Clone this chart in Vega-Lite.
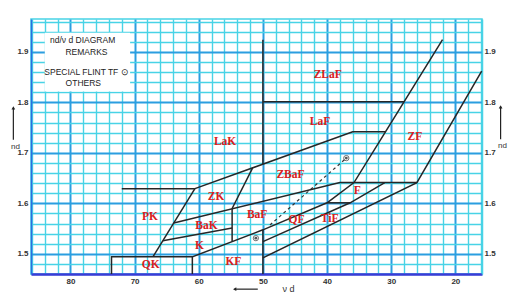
{
  "$schema": "https://vega.github.io/schema/vega-lite/v6.json",
  "width": 451,
  "height": 255,
  "autosize": {"type": "none"},
  "padding": {"left": 31, "top": 19, "right": 44, "bottom": 29},
  "background": "white",
  "config": {"view": {"stroke": "#48d3e6", "strokeWidth": 1.5}},
  "datasets": {
    "box": [{"x1": 84.0, "x2": 70.7, "y1": 1.8214, "y2": 1.9376}],
    "boxtext": [
      {"t": "nd/ν d DIAGRAM", "nu": 78.1, "nd": 1.9238},
      {"t": "REMARKS", "nu": 77.5, "nd": 1.8994},
      {"t": "SPECIAL FLINT   TF ⊙", "nu": 77.5, "nd": 1.861},
      {"t": "OTHERS", "nu": 78.0, "nd": 1.8376}
    ],
    "segments": [
      {"seg": "h163", "i": 0, "nu": 72.0, "nd": 1.629},
      {"seg": "h163", "i": 1, "nu": 60.6, "nd": 1.629},
      {"seg": "LaK", "i": 0, "nu": 60.6, "nd": 1.629},
      {"seg": "LaK", "i": 1, "nu": 36.0, "nd": 1.7416},
      {"seg": "LaK", "i": 2, "nu": 30.9, "nd": 1.7416},
      {"seg": "PK", "i": 0, "nu": 60.6, "nd": 1.629},
      {"seg": "PK", "i": 1, "nu": 67.1, "nd": 1.495},
      {"seg": "ZKr", "i": 0, "nu": 51.6, "nd": 1.670},
      {"seg": "ZKr", "i": 1, "nu": 54.8, "nd": 1.5897},
      {"seg": "BaKv", "i": 0, "nu": 54.8, "nd": 1.5897},
      {"seg": "BaKv", "i": 1, "nu": 54.8, "nd": 1.5248},
      {"seg": "ZBaF", "i": 0, "nu": 63.9, "nd": 1.561},
      {"seg": "ZBaF", "i": 1, "nu": 38.0, "nd": 1.641},
      {"seg": "ZBaF", "i": 2, "nu": 26.0, "nd": 1.641},
      {"seg": "BaKlow", "i": 0, "nu": 65.6, "nd": 1.5257},
      {"seg": "BaKlow", "i": 1, "nu": 54.8, "nd": 1.5509},
      {"seg": "a", "i": 0, "nu": 61.0, "nd": 1.494},
      {"seg": "a", "i": 1, "nu": 50.0, "nd": 1.5475},
      {"seg": "a", "i": 2, "nu": 40.0, "nd": 1.601},
      {"seg": "b", "i": 0, "nu": 50.0, "nd": 1.524},
      {"seg": "b", "i": 1, "nu": 36.4, "nd": 1.601},
      {"seg": "b", "i": 2, "nu": 31.0, "nd": 1.641},
      {"seg": "c", "i": 0, "nu": 50.0, "nd": 1.492},
      {"seg": "c", "i": 1, "nu": 26.0, "nd": 1.641},
      {"seg": "c", "i": 2, "nu": 15.9, "nd": 1.862},
      {"seg": "diag", "i": 0, "nu": 22.0, "nd": 1.924},
      {"seg": "diag", "i": 1, "nu": 30.9, "nd": 1.7416},
      {"seg": "diag", "i": 2, "nu": 35.8, "nd": 1.641},
      {"seg": "diag", "i": 3, "nu": 40.0, "nd": 1.601},
      {"seg": "hF", "i": 0, "nu": 40.0, "nd": 1.601},
      {"seg": "hF", "i": 1, "nu": 36.4, "nd": 1.601},
      {"seg": "h18", "i": 0, "nu": 50.0, "nd": 1.801},
      {"seg": "h18", "i": 1, "nu": 28.0, "nd": 1.801},
      {"seg": "v50t", "i": 0, "nu": 50.0, "nd": 1.924},
      {"seg": "v50t", "i": 1, "nu": 50.0, "nd": 1.678},
      {"seg": "v50b", "i": 0, "nu": 50.0, "nd": 1.5475},
      {"seg": "v50b", "i": 1, "nu": 50.0, "nd": 1.46},
      {"seg": "QK", "i": 0, "nu": 73.6, "nd": 1.46},
      {"seg": "QK", "i": 1, "nu": 73.6, "nd": 1.494},
      {"seg": "QK", "i": 2, "nu": 61.0, "nd": 1.494},
      {"seg": "QK", "i": 3, "nu": 61.0, "nd": 1.46}
    ],
    "dashed": [
      {"i": 0, "nu": 48.9, "nd": 1.557},
      {"i": 1, "nu": 37.0, "nd": 1.6895}
    ],
    "circles": [
      {"nu": 37.0, "nd": 1.6895},
      {"nu": 51.1, "nd": 1.531}
    ],
    "labels": [
      {"label": "ZLaF", "nu": 39.9, "nd": 1.854},
      {"label": "LaF", "nu": 41.1, "nd": 1.762},
      {"label": "ZF", "nu": 26.3, "nd": 1.732},
      {"label": "LaK", "nu": 55.9, "nd": 1.721},
      {"label": "ZBaF", "nu": 45.7, "nd": 1.656},
      {"label": "F", "nu": 35.3, "nd": 1.625},
      {"label": "QF", "nu": 44.75, "nd": 1.567},
      {"label": "TiF", "nu": 39.6, "nd": 1.569},
      {"label": "BaF", "nu": 50.9, "nd": 1.577},
      {"label": "ZK", "nu": 57.3, "nd": 1.612},
      {"label": "PK", "nu": 67.6, "nd": 1.572},
      {"label": "BaK", "nu": 58.8, "nd": 1.556},
      {"label": "K", "nu": 59.9, "nd": 1.516},
      {"label": "QK", "nu": 67.5, "nd": 1.477},
      {"label": "KF", "nu": 54.6, "nd": 1.4836}
    ],
    "arrows": [
      {"nu": 88.9, "nd": 1.726, "nu2": 88.9, "nd2": 1.789},
      {"nu": 12.95, "nd": 1.727, "nu2": 12.95, "nd2": 1.791},
      {"nu": 54.4, "nd": 1.430, "nu2": 50.8, "nd2": 1.430}
    ],
    "headsUp": [
      {"nu": 88.9, "nd": 1.789},
      {"nu": 12.95, "nd": 1.791}
    ],
    "headsLeft": [
      {"nu": 54.4, "nd": 1.430}
    ]
  },
  "resolve": {"axis": {"x": "independent", "y": "independent"}},
  "layer": [
    {
      "data": {"name": "box"},
      "mark": {"type": "rect", "fill": "white", "stroke": null},
      "encoding": {
        "x": {
          "field": "x1", "type": "quantitative",
          "scale": {"domain": [15.85, 86.15], "reverse": true, "nice": false, "zero": false},
          "axis": {
            "orient": "bottom",
            "values": [16,18,20,22,24,26,28,30,32,34,36,38,40,42,44,46,48,50,52,54,56,58,60,62,64,66,68,70,72,74,76,78,80,82,84,86],
            "grid": true,
            "gridColor": {"condition": {"test": "datum.value % 10 === 0", "value": "#2a9ee0"}, "value": "#48d3e6"},
            "gridWidth": {"condition": {"test": "datum.value % 10 === 0", "value": 2}, "value": 1.4},
            "ticks": false,
            "labelExpr": "datum.value % 10 === 0 ? datum.label : ''",
            "labelOverlap": false,
            "labelFlush": false,
            "labelPadding": 3,
            "labelFont": "Liberation Sans",
            "labelFontSize": 8,
            "labelFontWeight": "bold",
            "labelColor": "#333333",
            "domainColor": "#3b3bd6",
            "domainWidth": 2.5,
            "title": "ν d",
            "titleFont": "Liberation Sans",
            "titleFontSize": 9,
            "titleFontWeight": "normal",
            "titleColor": "#333333",
            "titleX": 257,
            "titleY": 14,
            "titleAlign": "center",
            "titleBaseline": "middle"
          }
        },
        "x2": {"field": "x2"},
        "y": {
          "field": "y1", "type": "quantitative",
          "scale": {"domain": [1.46, 1.965], "nice": false, "zero": false},
          "axis": {
            "orient": "left",
            "values": [1.46,1.48,1.5,1.52,1.54,1.56,1.58,1.6,1.62,1.64,1.66,1.68,1.7,1.72,1.74,1.76,1.78,1.8,1.82,1.84,1.86,1.88,1.9,1.92,1.94,1.96],
            "grid": true,
            "gridColor": {"condition": {"test": "abs(datum.value*10 - round(datum.value*10)) < 0.001", "value": "#2a9ee0"}, "value": "#48d3e6"},
            "gridWidth": {"condition": {"test": "abs(datum.value*10 - round(datum.value*10)) < 0.001", "value": 2}, "value": 1.4},
            "ticks": false,
            "labelExpr": "abs(datum.value*10 - round(datum.value*10)) < 0.001 ? format(datum.value, '.1f') : ''",
            "labelOverlap": false,
            "labelFlush": false,
            "labelPadding": 3,
            "labelFont": "Liberation Sans",
            "labelFontSize": 8,
            "labelFontWeight": "bold",
            "labelColor": "#333333",
            "domainColor": "#2a6fe0",
            "domainWidth": 1.5,
            "title": "nd",
            "titleAngle": 0,
            "titleFont": "Liberation Sans",
            "titleFontSize": 8,
            "titleFontWeight": "normal",
            "titleColor": "#333333",
            "titleX": -16,
            "titleY": 127,
            "titleAlign": "center",
            "titleBaseline": "middle"
          }
        },
        "y2": {"field": "y2"}
      }
    },
    {
      "data": {"name": "segments"},
      "mark": {"type": "line", "color": "#262626", "strokeWidth": 1.5},
      "encoding": {
        "x": {"field": "nu", "type": "quantitative", "axis": null},
        "y": {
          "field": "nd", "type": "quantitative",
          "axis": {
            "orient": "right",
            "values": [1.5, 1.6, 1.7, 1.8, 1.9],
            "format": ".1f",
            "grid": false,
            "ticks": false,
            "labelPadding": 2,
            "labelFont": "Liberation Sans",
            "labelFontSize": 8,
            "labelFontWeight": "bold",
            "labelColor": "#333333",
            "domainColor": "#48d3e6",
            "domainWidth": 1.5,
            "title": "nd",
            "titleAngle": 0,
            "titleFont": "Liberation Sans",
            "titleFontSize": 8,
            "titleFontWeight": "normal",
            "titleColor": "#333333",
            "titleX": 20,
            "titleY": 126,
            "titleAlign": "center",
            "titleBaseline": "middle"
          }
        },
        "detail": {"field": "seg"},
        "order": {"field": "i"}
      }
    },
    {
      "data": {"name": "dashed"},
      "mark": {"type": "line", "color": "#333333", "strokeWidth": 1.2, "strokeDash": [3, 3]},
      "encoding": {
        "x": {"field": "nu", "type": "quantitative", "axis": null},
        "y": {"field": "nd", "type": "quantitative", "axis": null},
        "order": {"field": "i"}
      }
    },
    {
      "data": {"name": "circles"},
      "mark": {"type": "point", "shape": "circle", "filled": false, "color": "#333333", "strokeWidth": 1, "size": 28},
      "encoding": {
        "x": {"field": "nu", "type": "quantitative", "axis": null},
        "y": {"field": "nd", "type": "quantitative", "axis": null}
      }
    },
    {
      "data": {"name": "circles"},
      "mark": {"type": "point", "shape": "circle", "filled": true, "color": "#555555", "opacity": 1, "size": 8},
      "encoding": {
        "x": {"field": "nu", "type": "quantitative", "axis": null},
        "y": {"field": "nd", "type": "quantitative", "axis": null}
      }
    },
    {
      "data": {"name": "labels"},
      "mark": {"type": "text", "font": "Liberation Serif", "fontWeight": "bold", "fontSize": 11.5, "color": "#d82020", "align": "center", "baseline": "middle"},
      "encoding": {
        "x": {"field": "nu", "type": "quantitative", "axis": null},
        "y": {"field": "nd", "type": "quantitative", "axis": null},
        "text": {"field": "label"}
      }
    },
    {
      "data": {"name": "boxtext"},
      "mark": {"type": "text", "font": "Liberation Sans", "fontSize": 8.5, "color": "#222222", "align": "center", "baseline": "middle"},
      "encoding": {
        "x": {"field": "nu", "type": "quantitative", "axis": null},
        "y": {"field": "nd", "type": "quantitative", "axis": null},
        "text": {"field": "t"}
      }
    },
    {
      "data": {"name": "arrows"},
      "mark": {"type": "rule", "color": "#222222", "strokeWidth": 1.2},
      "encoding": {
        "x": {"field": "nu", "type": "quantitative", "axis": null},
        "y": {"field": "nd", "type": "quantitative", "axis": null},
        "x2": {"field": "nu2"},
        "y2": {"field": "nd2"}
      }
    },
    {
      "data": {"name": "headsUp"},
      "mark": {"type": "point", "shape": "triangle-up", "filled": true, "color": "#222222", "opacity": 1, "size": 14},
      "encoding": {
        "x": {"field": "nu", "type": "quantitative", "axis": null},
        "y": {"field": "nd", "type": "quantitative", "axis": null}
      }
    },
    {
      "data": {"name": "headsLeft"},
      "mark": {"type": "point", "shape": "triangle-left", "filled": true, "color": "#222222", "opacity": 1, "size": 14},
      "encoding": {
        "x": {"field": "nu", "type": "quantitative", "axis": null},
        "y": {"field": "nd", "type": "quantitative", "axis": null}
      }
    }
  ]
}
